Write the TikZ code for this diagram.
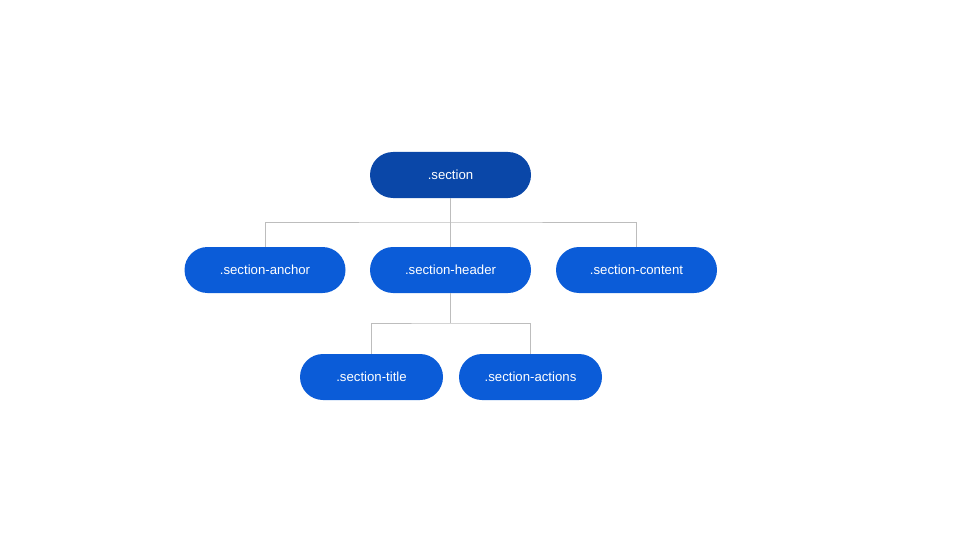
\documentclass[tikz,border=0pt]{standalone}
\usepackage{fontspec}
\setmainfont{Liberation Sans}
\usepackage{tikz}
\usetikzlibrary{calc,positioning}

\definecolor{rootblue}{HTML}{0A47A8}
\definecolor{nodeblue}{HTML}{0B5CD8}
\definecolor{linkgray}{HTML}{BDBDBD}

\tikzset{
  pill/.style={rectangle, rounded corners=23pt, fill=nodeblue, text=white,
    minimum width=161pt, minimum height=46pt, inner sep=0pt,
    font=\fontsize{13.2}{15}\selectfont},
  small pill/.style={pill, minimum width=143pt},
  link/.style={draw=linkgray, line width=1pt}
}

\begin{document}
\begin{tikzpicture}[x=1pt, y=-1pt]

  \useasboundingbox (0,0) rectangle (960,540) ;

  \node [pill, fill=rootblue] (section) at (450.5,175) {.section} ;

  \node [pill] (anchor)  at (265,270)   {.section-anchor} ;
  \node [pill] (header)  at (450.5,270) {.section-header} ;
  \node [pill] (content) at (636.5,270) {.section-content} ;

  \node [small pill] (title)   at (371.5,377) {.section-title} ;
  \node [small pill] (actions) at (530.5,377) {.section-actions} ;

  \coordinate (bus1) at (450.5,222) ;
  \coordinate (bus2) at (450.5,323) ;

  \draw [link] (section.south) -- (header.north) ;
  \draw [link] (anchor.north) |- (bus1) -| (content.north) ;

  \draw [link] (header.south) -- (bus2) ;
  \draw [link] (title.north) |- (bus2) -| (actions.north) ;

\end{tikzpicture}
\end{document}
